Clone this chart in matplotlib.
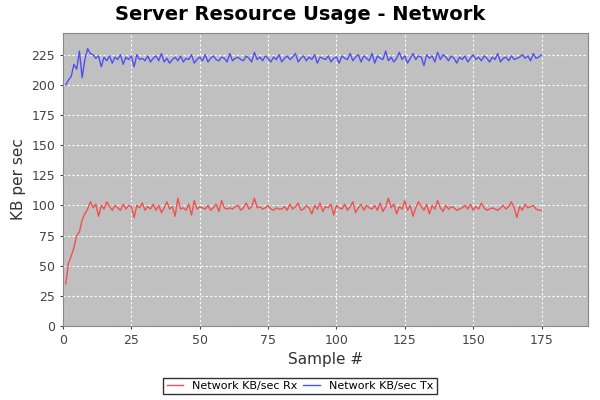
import numpy as np
import matplotlib
matplotlib.use("Agg")
import matplotlib.pyplot as plt

# Network receive rate per sample (KB/sec)
rx = [35, 52, 58, 65, 75, 78, 88, 93, 97, 103, 98, 101, 91, 100, 97, 103, 99, 96, 100, 98,
      96, 101, 97, 100, 99, 90, 100, 98, 102, 96, 99, 97, 101, 96, 100, 94, 98, 103, 97, 99,
      91, 106, 97, 98, 96, 101, 92, 104, 97, 99, 98, 97, 100, 96, 98, 101, 95, 104, 98, 97,
      98, 97, 99, 100, 96, 98, 102, 97, 99, 106, 98, 99, 97, 98, 100, 97, 96, 98, 97, 97,
      99, 96, 101, 97, 99, 102, 96, 97, 100, 98, 93, 100, 97, 102, 95, 99, 98, 101, 92, 100,
      98, 97, 101, 96, 99, 103, 94, 98, 101, 96, 100, 98, 97, 100, 96, 102, 95, 99, 106, 98,
      101, 93, 99, 97, 104, 96, 100, 91, 98, 103, 99, 96, 101, 93, 100, 97, 104, 98, 95, 100,
      97, 99, 98, 96, 97, 98, 100, 97, 101, 96, 99, 97, 102, 98, 96, 97, 98, 97, 96, 98,
      100, 97, 99, 103, 98, 90, 99, 96, 101, 98, 99, 100, 97, 96, 96]
# Network transmit rate per sample (KB/sec)
tx = [200, 204, 207, 217, 213, 228, 206, 221, 230, 226, 225, 222, 224, 215, 223, 220, 224, 218, 223, 221,
      225, 217, 223, 221, 224, 215, 225, 221, 222, 220, 224, 219, 222, 224, 220, 226, 219, 222, 218, 221,
      223, 220, 224, 219, 222, 221, 225, 218, 221, 223, 220, 225, 219, 222, 224, 221, 220, 223, 222, 219,
      226, 220, 222, 223, 221, 220, 224, 222, 219, 227, 221, 223, 220, 224, 222, 219, 223, 221, 225, 219,
      222, 224, 221, 223, 226, 219, 222, 224, 220, 223, 221, 225, 218, 223, 222, 221, 224, 219, 222, 223,
      218, 224, 222, 221, 226, 220, 223, 225, 219, 224, 222, 220, 226, 218, 224, 222, 221, 228, 220, 223,
      219, 222, 227, 221, 224, 218, 222, 226, 221, 224, 223, 216, 225, 222, 224, 219, 227, 221, 225, 223,
      220, 224, 222, 218, 223, 221, 224, 219, 222, 225, 221, 223, 220, 224, 222, 219, 223, 221, 226, 219,
      222, 223, 220, 224, 221, 222, 223, 225, 222, 224, 220, 226, 222, 223, 225]
samples = np.arange(1, len(rx) + 1)

fig = plt.figure(figsize=(6, 4), dpi=100)
ax = fig.add_axes([63 / 600, 1 - 326 / 400, 525 / 600, 293 / 400])
ax.set_facecolor("#c0c0c0")
ax.plot(samples, rx, color="#f05050", lw=1, label="Network KB/sec Rx")
ax.plot(samples, tx, color="#5050f0", lw=1, label="Network KB/sec Tx")
ax.set_xlim(0, 192)
ax.set_ylim(0, 243)
ax.set_xticks(range(0, 176, 25))
ax.set_yticks(range(0, 226, 25))
ax.grid(True, color="white", ls=(0, (2, 2)), lw=0.8)
ax.tick_params(labelsize=9, colors="#444444", length=2)
for s in ax.spines.values():
    s.set_color("#888888")
ax.set_xlabel("Sample #", fontsize=11, color="#333333")
ax.set_ylabel("KB per sec", fontsize=11, color="#333333")
fig.text(0.5, 0.965, "Server Resource Usage - Network", ha="center", va="center",
         fontsize=14, fontweight="bold")
fig.legend(loc="center", bbox_to_anchor=(0.5, 386 / 400 - 1 + 0.0), ncol=2, fontsize=8,
           frameon=True, fancybox=False, edgecolor="black", handlelength=1.5,
           columnspacing=0.5, borderpad=0.3)
fig.legends[0].set_bbox_to_anchor((0.5, 1 - 386 / 400), transform=fig.transFigure)
fig.savefig("out.png")
